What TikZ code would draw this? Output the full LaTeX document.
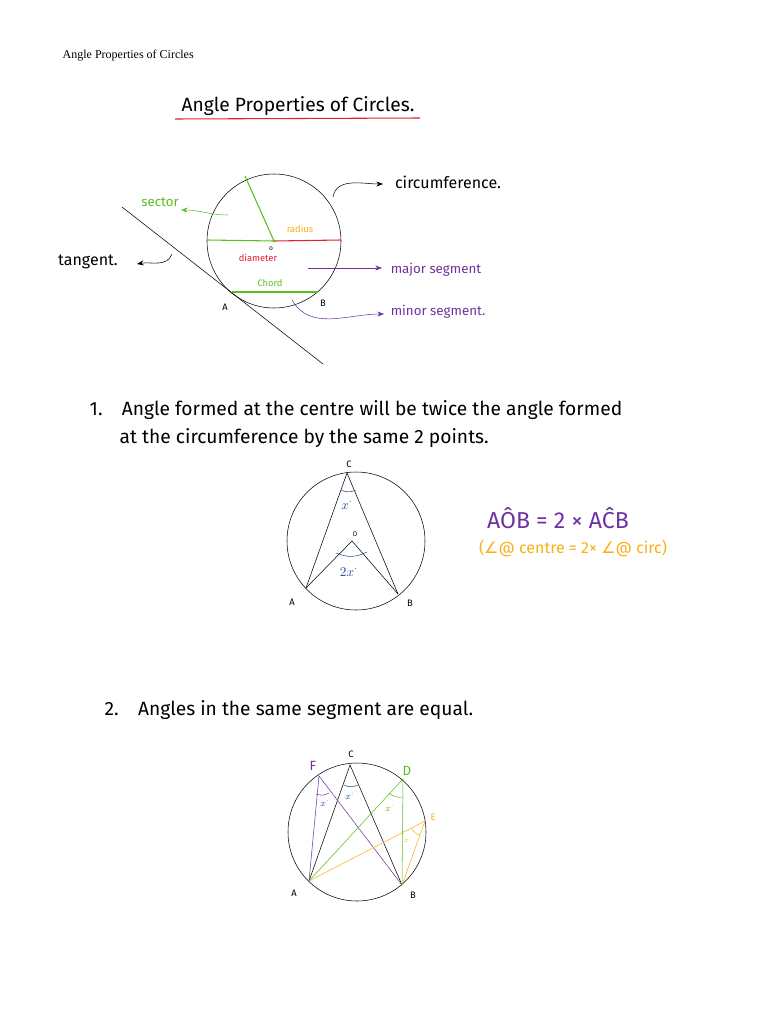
\documentclass[tikz,border=0pt]{standalone}
\usepackage{fontspec}
\setmainfont{Liberation Serif}
\newfontfamily\hand{Fira Sans}
\newfontfamily\sym{DejaVu Sans}
\usetikzlibrary{arrows.meta,calc}
\definecolor{cgreen}{RGB}{90,190,30}
\definecolor{cred}{RGB}{230,30,50}
\definecolor{corange}{RGB}{250,175,20}
\definecolor{cpurple}{RGB}{110,50,160}
\definecolor{cblue}{RGB}{30,80,140}
\tikzset{hw/.style={font=\hand},
 lbl/.style={font=\hand\scriptsize},
 arr/.style={-{Stealth[length=5pt]},thin}}
\begin{document}
\begin{tikzpicture}[x=0.75pt,y=-0.75pt]
\useasboundingbox (0,0) rectangle (768,1024);
\node[anchor=west,font=\small] (title) at (58,56) {Angle Properties of Circles};
\node[hw,font=\hand\Large] (ht) at (298,106) {Angle Properties of Circles.};
\draw[cred,thick] (175,119) -- (420,118);
% circle 1
\coordinate (O1) at (274,241);
\draw (O1) circle (67);
\coordinate (L1) at (207,240); \coordinate (R1) at (341,240);
\coordinate (T1) at (245,176);
\draw[cgreen,thick] (L1) -- (O1) -- (T1);
\draw[cred,thick] (O1) -- (R1);
\fill[cgreen] (O1) circle (1.5);
\coordinate (A1) at (232,292); \coordinate (B1) at (317,292);
\draw[cgreen,thick] (A1) -- (B1);
\coordinate (t1) at (122,207); \coordinate (t2) at (323,364);
\draw (t1) -- (t2);
\node[lbl,font=\hand\tiny] (Ol) at (271,249) {o};
\node[lbl] (Al) at (225,307) {A};
\node[lbl] (Bl) at (323,303) {B};
\node[lbl,cgreen] (Cl) at (270,283) {Chord};
\node[lbl,cred] (dl) at (258,258) {diameter};
\node[lbl,corange] (rl) at (300,229) {radius};
\node[hw,cgreen] (sec) at (160,202) {sector};
\coordinate (s0) at (228,215);
\draw[arr,cgreen] (s0) to[out=180,in=0] (181,210);
\node[hw,font=\hand\large] (circ) at (448,182) {circumference.};
\coordinate (c0) at (333,197);
\draw[arr] (c0) to[out=80,in=180] (383,184);
\node[hw,font=\hand\large] (tan) at (88,262) {tangent.};
\coordinate (g0) at (172,254);
\draw[arr] (g0) to[out=-110,in=10] (137,264);
\node[hw,cpurple] (maj) at (436,270) {major segment};
\coordinate (m0) at (308,268);
\draw[arr,cpurple] (m0) -- (382,268);
\node[hw,cpurple] (min) at (438,312) {minor segment.};
\coordinate (n0) at (292,300);
\draw[arr,cpurple] (n0) to[out=-60,in=180] (384,314);
% item 1
\node[hw,anchor=west,font=\hand\Large] (i1a) at (85,410) {1.\quad Angle formed at the centre will be twice the angle formed};
\node[hw,anchor=west,font=\hand\Large] (i1b) at (115,438) {at the circumference by the same 2 points.};
\coordinate (O2) at (356,541);
\draw (O2) circle (69);
\coordinate (C2) at (347,473);
\coordinate (A2) at (306,588);
\coordinate (B2) at (398,594);
\coordinate (Oc) at (352,541);
\draw (A2) -- (C2) -- (B2);
\draw (A2) -- (Oc) -- (B2);
\draw[cblue] ($(C2)+(-6,17)$) to[bend right=25] ($(C2)+(9,17)$);
\draw[cblue] ($(Oc)+(-16,12)$) to[bend right=25] ($(Oc)+(15,11)$);
\node[hw,cblue] (x1) at (347,505) {$x^{\cdot}$};
\node[hw,cblue] (x2) at (349,572) {$2x^{\cdot}$};
\node[lbl] (Cl2) at (349,464) {C};
\node[lbl,font=\hand\tiny] (Ol2) at (355,534) {O};
\node[lbl] (Al2) at (292,602) {A};
\node[lbl] (Bl2) at (410,603) {B};
\node[hw,cpurple,font=\hand\LARGE] (f1) at (558,518) {A\^{O}B = 2 × A\^{C}B};
\node[hw,corange,font=\hand\large] (f2) at (573,548) {(\sym∠\hand@ centre = 2× \sym∠\hand@ circ)};
% item 2
\node[hw,anchor=west,font=\hand\Large] (i2) at (100,710) {2.\quad Angles in the same segment are equal.};
\coordinate (O3) at (357,832);
\draw (O3) circle (69);
\coordinate (C3) at (350,765);
\coordinate (F3) at (319,776);
\coordinate (D3) at (403,779);
\coordinate (E3) at (425,821);
\coordinate (A3) at (309,881);
\coordinate (B3) at (402,885);
\draw (A3) -- (C3) -- (B3);
\draw[cpurple] (A3) -- (F3) -- (B3);
\draw[cgreen] (A3) -- (D3) -- (B3);
\draw[corange] (A3) -- (E3) -- (B3);
\draw[cblue] ($(C3)+(-6,20)$) to[bend right=25] ($(C3)+(8,20)$);
\draw[cpurple] ($(F3)+(-3,18)$) to[bend right=25] ($(F3)+(10,17)$);
\draw[cgreen] ($(D3)+(-14,14)$) to[bend right=25] ($(D3)+(0,18)$);
\draw[corange] ($(E3)+(-13,8)$) to[bend right=25] ($(E3)+(-5,14)$);
\node[lbl] (Cl3) at (351,754) {C};
\node[hw,cpurple] (Fl3) at (313,766) {F};
\node[hw,cgreen] (Dl3) at (407,771) {D};
\node[lbl,corange] (El3) at (433,817) {E};
\node[lbl] (Al3) at (294,893) {A};
\node[lbl] (Bl3) at (413,895) {B};
\node[lbl,cpurple] (xf) at (325,803) {$x^{\cdot}$};
\node[lbl,cblue] (xc) at (350,796) {$x^{\cdot}$};
\node[lbl,cgreen] (xd) at (390,808) {$x^{\cdot}$};
\node[lbl,corange,font=\tiny] (xe) at (408,840) {$x^{\cdot}$};
\end{tikzpicture}
\end{document}
